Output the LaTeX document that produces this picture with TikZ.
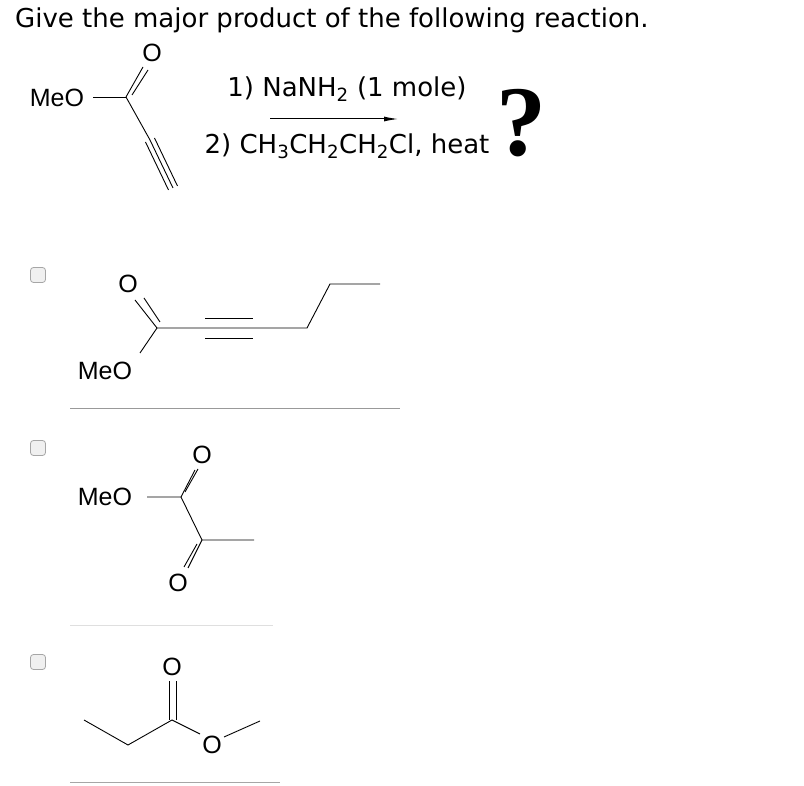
\documentclass[tikz,border=0pt]{standalone}
\usetikzlibrary{calc,arrows.meta}
\usepackage{fontspec}
\setmainfont{DejaVu Sans}
\newfontfamily\qfont{Liberation Serif}
\newfontfamily\lblfont{Liberation Sans}
\begin{document}
\begin{tikzpicture}[x=1pt,y=-1pt,
  lbl/.style={inner sep=0pt,font=\lblfont\fontsize{25}{25}\selectfont},
  txt/.style={inner sep=0pt,font=\fontsize{26}{26}\selectfont},
  bd/.style={line width=0.9pt},
  box/.style={draw=gray!70,fill=gray!12,rounded corners=3pt,line width=0.8pt,minimum size=15pt,inner sep=0pt},
  sep/.style={line width=1pt}]
\useasboundingbox (0,0) rectangle (804,786);
\node[txt,anchor=west] (title) at (15,20) {Give the major product of the following reaction.};
% starting material
\node[lbl] (meo0) at (57,98) {MeO};
\node[lbl] (o0) at (152,53) {O};
\coordinate (c0) at (126,97);
\coordinate (p0) at (150,140);
\coordinate (q0) at (173,188);
\draw[bd] (93,97) -- (c0);
\draw[bd] (c0) -- (143,67);
\draw[bd] ($(c0)+(6,-2)$) -- (148,70);
\draw[bd] (c0) -- (p0);
\draw[bd] (p0) -- (q0);
\draw[bd] ($(p0)+(-4.5,2)$) -- ($(q0)+(-4.5,2)$);
\draw[bd] ($(p0)+(4.5,-2)$) -- ($(q0)+(4.5,-2)$);
\node[txt] (r1) at (347,89) {1) NaNH\textsubscript{2} (1 mole)};
\node[txt] (r2) at (347,146) {2) CH\textsubscript{3}CH\textsubscript{2}CH\textsubscript{2}Cl, heat};
\coordinate (a1) at (270,119);
\coordinate (a2) at (398,119);
\draw[line width=1pt,-{Latex[length=14pt,width=5pt]}] (a1) -- (a2);
\node[inner sep=0pt,font=\qfont\bfseries\fontsize{100}{100}\selectfont] (qm) at (521,123) {?};
% checkboxes
\node[box] (b1) at (38,275) {};
\node[box] (b2) at (38,448) {};
\node[box] (b3) at (38,662) {};
% option 1
\node[lbl] (o1) at (128,284) {O};
\node[lbl] (meo1) at (105,371) {MeO};
\coordinate (c1) at (157,328);
\coordinate (d1) at (307,328);
\coordinate (e1) at (330,284);
\coordinate (f1) at (380,284);
\draw[bd] (c1) -- (135,300);
\draw[bd] (160,322) -- (144,298);
\draw[bd] (c1) -- (140,353);
\draw[bd] (c1) -- (d1) -- (e1) -- (f1);
\draw[bd] (205,318) -- (253,318);
\draw[bd] (205,338) -- (253,338);
\draw[gray!80,sep] (70,409) -- (400,409);
% option 2
\node[lbl] (meo2) at (105,497) {MeO};
\node[lbl] (o2a) at (202,455) {O};
\node[lbl] (o2b) at (178,583) {O};
\coordinate (c2) at (181,497);
\coordinate (c3) at (202,540);
\coordinate (m2) at (254,540);
\draw[bd] (147,497) -- (c2) -- (c3) -- (m2);
\draw[bd] (c2) -- (195,470);
\draw[bd] (185,492) -- (198,469);
\draw[bd] (c3) -- (188,568);
\draw[bd] (197,544) -- (184,567);
\draw[gray!25,sep] (70,625) -- (273,625);
% option 3
\node[lbl] (o3a) at (172,667) {O};
\node[lbl] (o3b) at (212,745) {O};
\coordinate (k1) at (84,720);
\coordinate (k2) at (128,745);
\coordinate (k3) at (172,720);
\coordinate (k4) at (260,721);
\draw[bd] (k1) -- (k2) -- (k3) -- (200,734);
\draw[bd] (224,737) -- (k4);
\draw[bd] (169,720) -- (169,681);
\draw[bd] (176,720) -- (176,681);
\draw[gray!70,sep] (70,782) -- (280,782);
\end{tikzpicture}
\end{document}
